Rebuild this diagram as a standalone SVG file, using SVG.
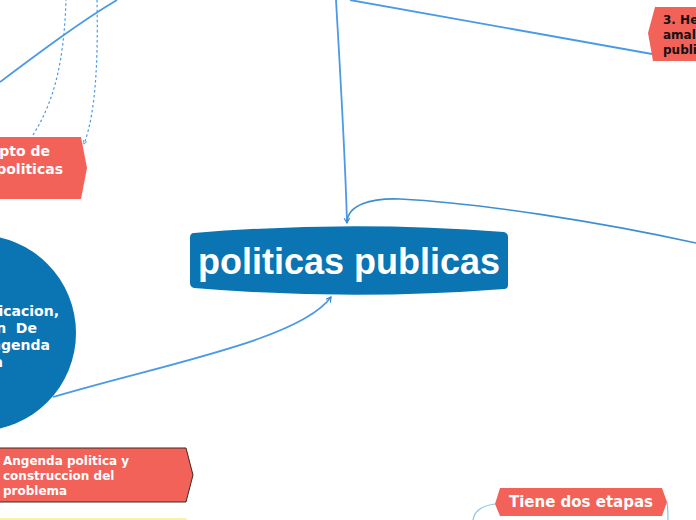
<svg xmlns="http://www.w3.org/2000/svg" width="696" height="520" viewBox="0 0 696 520">
<defs>
<style>
.t{font-family:"DejaVu Sans",Verdana,sans-serif;font-weight:bold;}
.w{fill:#ffffff;}
.k{fill:#111111;}
.ln{fill:none;stroke:#4a9ae6;stroke-width:1.8;}
.dot{fill:none;stroke:#4a9ae6;stroke-width:1.2;stroke-dasharray:2.5,2.5;}
.lb{fill:none;stroke:#8cc3e0;stroke-width:1.2;}
.red{fill:#f26258;}
</style>
<marker id="ah" viewBox="0 0 10 10" refX="8" refY="5" markerWidth="7" markerHeight="7" orient="auto" markerUnits="userSpaceOnUse">
<path d="M1,1 L8,5 L1,9" fill="none" stroke="#2f86cf" stroke-width="1.6"/>
</marker>
<marker id="ahs" viewBox="0 0 10 10" refX="8" refY="5" markerWidth="5" markerHeight="5" orient="auto" markerUnits="userSpaceOnUse">
<path d="M1,1 L8,5 L1,9" fill="none" stroke="#4a9ae6" stroke-width="1.6"/>
</marker>
</defs>
<rect width="696" height="520" fill="#ffffff"/>

<g id="connectors">
<path class="ln" d="M0,82 C40,52 80,22 117,0"/>
<path class="dot" d="M33,135 C55,100 64,60 66,0"/>
<path class="dot" d="M97,0 C98,50 97,110 84,144" marker-end="url(#ahs)"/>
<path class="ln" d="M336,0 C340,70 345,150 347,223" marker-end="url(#ah)"/>
<path class="ln" d="M350,0 L652,54"/>
<path fill="none" stroke="#3f8fd0" stroke-width="1.6" d="M696,243 C600,222 480,203 400,199 C370,198 348,205 347,222"/>
<path class="ln" d="M53,397 C160,365 300,340 331,297" marker-end="url(#ah)"/>
<path class="lb" d="M495,504 C480,506 474,512 473,520"/>
<path class="lb" d="M667,502 C668,508 668,514 668,520"/>
</g>

<g id="node-central">
<path fill="#0b74b3" d="M194,233 Q349,220 504,232 Q508,233 508,237 L508,285 Q508,289 504,289 Q349,301 194,288 Q190,287 190,283 L190,238 Q190,233 194,233 Z"/>
<text class="w" x="349" y="274" text-anchor="middle" font-family="Liberation Sans, Arial, sans-serif" font-weight="bold" font-size="36">politicas publicas</text>
</g>

<g id="node-circle">
<circle cx="-22" cy="333" r="98" fill="#0b74b3"/>
<g class="t w" font-size="14" text-anchor="end">
<text x="59" y="316">icacion,</text>
<text x="37" y="333">n&#160; De</text>
<text x="50" y="350">ngenda</text>
<text x="3" y="367">a</text>
</g>
</g>

<g id="node-concepto">
<path class="red" d="M-5,137 L81,137 L87,168 L81,199 L-5,199 Z"/>
<g class="t w" font-size="14" text-anchor="end">
<text x="50" y="156">pto de</text>
<text x="63" y="174">politicas</text>
</g>
</g>

<g id="node-herramientas">
<path class="red" d="M655,7 L700,7 L700,61 L653,61 L648,33 Z"/>
<g class="t k" font-size="12">
<text x="663" y="24">3. He</text>
<text x="663" y="39">amal</text>
<text x="663" y="54">publi</text>
</g>
</g>

<g id="node-angenda">
<path class="red" d="M-5,448 L186,448 L193,475 L186,502 L-5,502 Z" stroke="#3b2a22" stroke-width="1"/>
<g class="t w" font-size="12">
<text x="3" y="465">Angenda politica y</text>
<text x="3" y="480">construccion del</text>
<text x="3" y="495">problema</text>
</g>
</g>

<g id="node-yellow">
<rect x="-10" y="518" width="198" height="20" rx="4" fill="#f7f3a4"/>
</g>

<g id="node-etapas">
<path class="red" d="M500,488 L662,488 L667,502 L662,516 L500,516 L495,504 Z"/>
<text class="t w" x="581" y="507" font-size="15" text-anchor="middle">Tiene dos etapas</text>
</g>
</svg>
